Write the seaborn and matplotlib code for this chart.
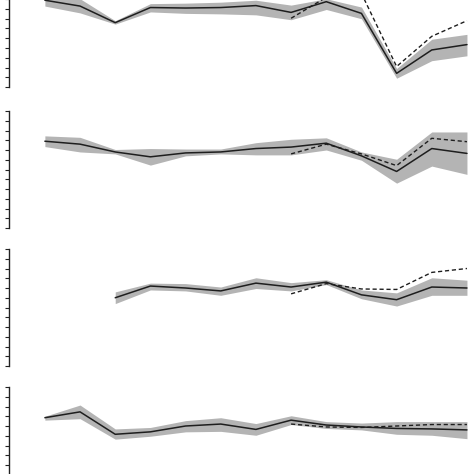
import numpy as np
import pandas as pd
import matplotlib
matplotlib.use("Agg")
import matplotlib.pyplot as plt
import seaborn as sns

nan = np.nan
x = list(range(13))

p1_mean = [8.9, 8.3, 6.6, 8.15, 8.1, 8.15, 8.35, 7.65, 8.75, 7.55, 1.4, 3.8, 4.35]
p1_lo = [8.3, 7.6, 6.45, 7.7, 7.55, 7.5, 7.4, 6.9, 7.95, 7.0, 0.9, 2.7, 3.2]
p1_hi = [9.25, 9.05, 6.8, 8.55, 8.6, 8.7, 8.9, 8.4, 9.05, 8.2, 1.9, 4.9, 5.4]
p1_dash = [nan]*7 + [7.05, 9.2, 9.6, 2.1, 5.2, 6.8]

p2_mean = [8.9, 8.6, 7.8, 7.3, 7.7, 7.8, 8.15, 8.3, 8.7, 7.4, 5.8, 8.15, 7.65]
p2_lo = [8.35, 7.8, 7.6, 6.45, 7.4, 7.6, 7.5, 7.5, 8.0, 6.95, 4.6, 6.35, 5.5]
p2_hi = [9.45, 9.3, 8.05, 8.15, 8.1, 8.1, 8.75, 9.1, 9.25, 7.8, 7.05, 9.85, 9.85]
p2_dash = [nan]*7 + [7.6, 8.6, 7.6, 6.4, 9.2, 8.85]

p3_mean = [nan, nan, 7.0, 8.2, 8.0, 7.7, 8.5, 8.1, 8.6, 7.3, 6.8, 8.1, 8.0]
p3_lo = [nan, nan, 6.4, 7.8, 7.7, 7.25, 7.95, 7.7, 8.35, 6.9, 6.15, 7.25, 7.25]
p3_hi = [nan, nan, 7.6, 8.5, 8.45, 8.1, 9.05, 8.55, 8.85, 7.8, 7.5, 9.05, 8.8]
p3_dash = [nan]*7 + [7.4, 8.45, 7.9, 7.85, 9.6, 10.0]

p4_mean = [8.85, 9.45, 7.15, 7.4, 8.0, 8.2, 7.65, 8.6, 8.1, 7.9, 7.75, 7.7, 7.6]
p4_lo = [8.6, 8.75, 6.65, 6.95, 7.4, 7.45, 7.05, 8.15, 7.75, 7.6, 7.15, 7.05, 6.7]
p4_hi = [9.0, 10.15, 7.7, 7.85, 8.55, 8.85, 8.25, 9.05, 8.45, 8.3, 8.45, 8.45, 8.45]
p4_dash = [nan]*7 + [8.2, 7.9, 7.85, 8.0, 8.15, 8.15]

panels = [(p1_mean, p1_lo, p1_hi, p1_dash), (p2_mean, p2_lo, p2_hi, p2_dash),
          (p3_mean, p3_lo, p3_hi, p3_dash), (p4_mean, p4_lo, p4_hi, p4_dash)]

sns.set_style("white")
fig = plt.figure(figsize=(4.74, 4.74), dpi=100)
bottoms_px = [87, 228, 366, 504]
for (m, lo, hi, d), b in zip(panels, bottoms_px):
    ax = fig.add_axes([9/474, (474-b)/474, 465/474, 117/474])
    ax.fill_between(x, lo, hi, color="#b4b4b4", linewidth=0)
    df = pd.DataFrame({"x": x, "m": m, "d": d})
    sns.lineplot(data=df, x="x", y="m", ax=ax, color="#1e1e1e", lw=1.1)
    sns.lineplot(data=df, x="x", y="d", ax=ax, color="#1e1e1e", lw=1.0, linestyle=(0, (3, 2)))
    ax.set_xlim(-1.02, 12.2)
    ax.set_ylim(0, 12)
    ax.set_yticks(range(13))
    ax.set_yticklabels([])
    ax.set_xticks([])
    ax.set_xlabel(""); ax.set_ylabel("")
    for s in ["top", "right", "bottom"]:
        ax.spines[s].set_visible(False)
    ax.spines["left"].set_color("#222")
    ax.spines["left"].set_linewidth(1.0)
    ax.tick_params(axis="y", direction="out", length=3, width=0.8, color="#222", left=True)
    ax.patch.set_alpha(0)
fig.savefig("out.png", dpi=100)
